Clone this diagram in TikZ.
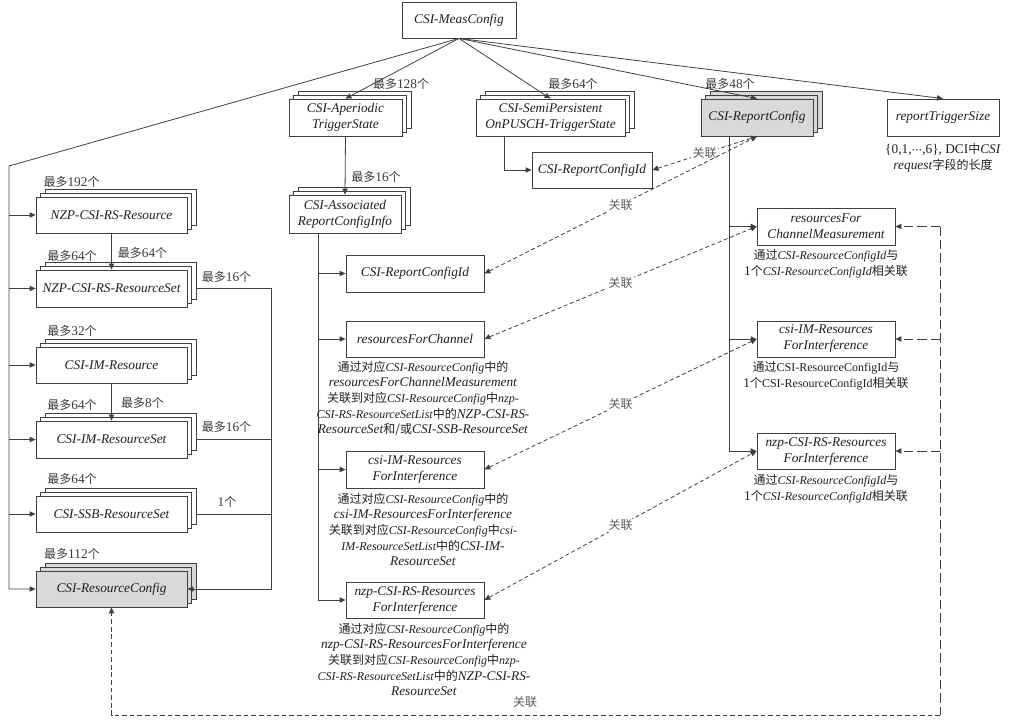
\documentclass[tikz,border=0pt]{standalone}
\usepackage{fontspec}
\setmainfont{Liberation Serif}
\newfontfamily\cjkf[Scale=0.9]{Noto Sans CJK SC}
\newfontfamily\dejavu{DejaVu Sans}
\newcommand\zh[1]{{\cjkf #1}}
\newcommand\smi[1]{{\fontsize{9}{10}\selectfont\itshape #1}}
\newcommand\smu[1]{{\fontsize{9}{10}\selectfont #1}}
\usetikzlibrary{arrows.meta,shadows}
\definecolor{lc}{HTML}{404040}
\definecolor{tc}{HTML}{1F1F1F}
\definecolor{lt}{HTML}{3A3A3A}
\definecolor{relc}{HTML}{5A5A5A}
\definecolor{boxgray}{HTML}{D9D9D9}
\begin{document}
\begin{tikzpicture}[x=0.75pt,y=-0.75pt,
  >={Triangle[length=4.5pt,width=4pt]},
  wh/.style 2 args={minimum width={#1*0.75pt}, minimum height={#2*0.75pt}},
  box/.style={draw=lc, fill=white, line width=0.6pt, inner sep=1pt, align=center,
    text=tc, font=\fontsize{10}{12}\selectfont\itshape},
  stack/.style={box,
    general shadow={shadow scale=1, shadow xshift=6.8pt, shadow yshift=5.6pt, fill=white, draw=lc, line width=0.6pt},
    general shadow={shadow scale=1, shadow xshift=3.4pt, shadow yshift=2.8pt, fill=white, draw=lc, line width=0.6pt}},
  gstack/.style={box, fill=boxgray,
    general shadow={shadow scale=1, shadow xshift=6.8pt, shadow yshift=5.6pt, fill=boxgray, draw=lc, line width=0.6pt},
    general shadow={shadow scale=1, shadow xshift=3.4pt, shadow yshift=2.8pt, fill=boxgray, draw=lc, line width=0.6pt}},
  conn/.style={draw=lc, line width=0.6pt},
  arr/.style={conn, ->},
  rl/.style={conn, <->, dash pattern=on 3pt off 2pt},
  dl/.style={conn, ->, dash pattern=on 7pt off 3pt},
  ds/.style={conn, ->, dash pattern=on 3.5pt off 2.2pt},
  lbl/.style={text=lt, inner sep=0pt, font=\fontsize{10}{12}\selectfont},
  note/.style={text=tc, inner sep=0pt, align=center, font=\fontsize{10}{11.8}\selectfont},
  rel/.style={text=relc, fill=white, inner sep=1pt, font=\fontsize{10}{12}\selectfont\cjkf},
]
\useasboundingbox (0,0) rectangle (1011,725);

% ---------- nodes ----------
\node[box,wh={114}{36}] (meas) at (459,20) {CSI-MeasConfig};
\node[stack,wh={113}{37}] (aper) at (345.5,117.5) {CSI-Aperiodic\\TriggerState};
\node[stack,wh={149}{37}] (semi) at (550.5,117.5) {CSI-SemiPersistent\\OnPUSCH-TriggerState};
\node[gstack,wh={112}{37}] (repcfg) at (757,117.5) {CSI-ReportConfig};
\node[box,wh={112}{37}] (rts) at (943,117.5) {reportTriggerSize};
\node[box,wh={120}{36}] (repidu) at (592,170) {CSI-ReportConfigId};
\node[stack,wh={112}{38}] (assoc) at (345,214) {CSI-Associated\\ReportConfigInfo};

\node[stack,wh={151}{36}] (nzpres) at (111.5,215) {NZP-CSI-RS-Resource};
\node[stack,wh={151}{37}] (nzpset) at (111.5,288.5) {NZP-CSI-RS-ResourceSet};
\node[stack,wh={151}{36}] (imres) at (111.5,365) {CSI-IM-Resource};
\node[stack,wh={151}{37}] (imset) at (111.5,439.5) {CSI-IM-ResourceSet};
\node[stack,wh={151}{36}] (ssb) at (111.5,514) {CSI-SSB-ResourceSet};
\node[gstack,wh={151}{36}] (rescfg) at (111.5,589) {CSI-ResourceConfig};

\node[box,wh={138}{37}] (repidl) at (415,273.5) {CSI-ReportConfigId};
\node[box,wh={138}{36}] (rfc) at (415,339) {resourcesForChannel};
\node[box,wh={138}{37}] (csiim) at (415,469.5) {csi-IM-Resources\\ForInterference};
\node[box,wh={138}{36}] (nzpif) at (415,600) {nzp-CSI-RS-Resources\\ForInterference};

\node[box,wh={138}{37}] (rfcm) at (826,226.5) {resourcesFor\\ChannelMeasurement};
\node[box,wh={138}{36}] (csiimr) at (826,339) {csi-IM-Resources\\ForInterference};
\node[box,wh={138}{36}] (nzpifr) at (826,451) {nzp-CSI-RS-Resources\\ForInterference};

% ---------- count labels ----------
\node[lbl] (l1) at (401,84) {\zh{最多}128\zh{个}};
\node[lbl] (l2) at (573,84) {\zh{最多}64\zh{个}};
\node[lbl] (l3) at (730,84) {\zh{最多}48\zh{个}};
\node[lbl] (l4) at (376,177) {\zh{最多}16\zh{个}};
\node[lbl] (l5) at (71.5,182) {\zh{最多}192\zh{个}};
\node[lbl] (l6) at (72,256) {\zh{最多}64\zh{个}};
\node[lbl] (l7) at (142.5,253) {\zh{最多}64\zh{个}};
\node[lbl] (l8) at (226.5,277) {\zh{最多}16\zh{个}};
\node[lbl] (l9) at (72,331) {\zh{最多}32\zh{个}};
\node[lbl] (l10) at (72,405) {\zh{最多}64\zh{个}};
\node[lbl] (l11) at (142.5,403) {\zh{最多}8\zh{个}};
\node[lbl] (l12) at (226.5,427) {\zh{最多}16\zh{个}};
\node[lbl] (l13) at (72,479) {\zh{最多}64\zh{个}};
\node[lbl] (l14) at (227,502) {1\zh{个}};
\node[lbl] (l15) at (72,554) {\zh{最多}112\zh{个}};

% ---------- notes ----------
\node[note] (nrts) at (943,158) {\{0,1,{\dejavu\fontsize{8}{10}\selectfont ⋯},6\}, DCI\zh{中}\textit{CSI}\\\textit{request}\zh{字段的长度}};
\node[note] (nrfcm) at (826,263.5) {\zh{通过}\smi{CSI-ResourceConfigId}\zh{与}\\1\zh{个}\smi{CSI-ResourceConfigId}\zh{相关联}};
\node[note] (ncsiimr) at (826,375.5) {\zh{通过}\smu{CSI-ResourceConfigId}\zh{与}\\1\zh{个}\smu{CSI-ResourceConfigId}\zh{相关联}};
\node[note] (nnzpifr) at (826,488.5) {\zh{通过}\smi{CSI-ResourceConfigId}\zh{与}\\1\zh{个}\smi{CSI-ResourceConfigId}\zh{相关联}};

\node[note] (nrfc) at (423,398.5) {\zh{通过对应}\smi{CSI-ResourceConfig}\zh{中的}\\
\textit{resourcesForChannelMeasurement}\\
\zh{关联到对应}\smi{CSI-ResourceConfig}\zh{中}\smi{nzp-}\\
\smi{CSI-RS-ResourceSetList}\zh{中的}\textit{NZP-CSI-RS-}\\
\textit{ResourceSet}\zh{和/或}\textit{CSI-SSB-ResourceSet}};
\node[note] (ncsiim) at (423,529.5) {\zh{通过对应}\smi{CSI-ResourceConfig}\zh{中的}\\
\textit{csi-IM-ResourcesForInterference}\\
\zh{关联到对应}\smi{CSI-ResourceConfig}\zh{中}\smi{csi-}\\
\smi{IM-ResourceSetList}\zh{中的}\textit{CSI-IM-}\\
\textit{ResourceSet}};
\node[note] (nnzpif) at (424,659.5) {\zh{通过对应}\smi{CSI-ResourceConfig}\zh{中的}\\
\textit{nzp-CSI-RS-ResourcesForInterference}\\
\zh{关联到对应}\smi{CSI-ResourceConfig}\zh{中}\smi{nzp-}\\
\smi{CSI-RS-ResourceSetList}\zh{中的}\textit{NZP-CSI-RS-}\\
\textit{ResourceSet}};

% ---------- helper coordinates ----------
\coordinate (L0) at (9,166);
\coordinate (R0) at (271,289);
\coordinate (M0) at (318,233);
\coordinate (Q0) at (729,136);
\coordinate (S0) at (504,136);
\coordinate (D0) at (940,226.5);
\coordinate (D1) at (940,715);

% ---------- solid connectors ----------
\draw[arr] (meas.south) -- (aper.north);
\draw[arr] (meas.south) -- (semi.north);
\draw[arr] (meas.south) -- (repcfg.north);
\draw[arr] (meas.south) -- (rts.north);
\draw[arr] (meas.south) -- (L0) -- (L0 |- rescfg.west) -- (rescfg.west);
\foreach \n in {nzpres,nzpset,imres,imset,ssb} \draw[arr] (L0 |- \n.west) -- (\n.west);

\draw[arr] (nzpres.south) -- (nzpset.north);
\draw[arr] (imres.south) -- (imset.north);
\draw[arr] ([xshift=7.5pt]nzpset.east) -- (R0 |- nzpset.east) -- (R0 |- rescfg.east) -- (rescfg.east);
\draw[conn] ([xshift=7.5pt]imset.east) -- (R0 |- imset.east);
\draw[conn] ([xshift=7.5pt]ssb.east) -- (R0 |- ssb.east);

\draw[arr] (aper.south) -- (assoc.north);
\draw[arr] (S0 |- semi.south) -- (S0 |- repidu.west) -- (repidu.west);
\draw[arr] (M0 |- assoc.south) -- (M0 |- nzpif.west) -- (nzpif.west);
\foreach \n in {repidl,rfc,csiim} \draw[arr] (M0 |- \n.west) -- (\n.west);
\draw[arr] (Q0 |- repcfg.south) -- (Q0 |- nzpifr.west) -- (nzpifr.west);
\foreach \n in {rfcm,csiimr} \draw[arr] (Q0 |- \n.west) -- (\n.west);

% ---------- dashed associations ----------
\draw[rl] (repidu.east) -- node[rel]{关联} (repcfg.south);
\draw[rl] (repidl.east) -- node[rel]{关联} (repcfg.south);
\draw[rl] (rfc.east) -- node[rel]{关联} (rfcm.west);
\draw[rl] (csiim.east) -- node[rel]{关联} (csiimr.west);
\draw[rl] (nzpif.east) -- node[rel]{关联} (nzpifr.west);

\draw[conn, dash pattern=on 7pt off 3pt] (D0) -- (D1);
\foreach \n in {rfcm,csiimr,nzpifr} \draw[dl] (D0 |- \n.east) -- (\n.east);
\draw[ds] (D1) -- (D1 -| rescfg.south) -- (rescfg.south);
\node[rel, fill=none] (relb) at (525,702) {关联};
\end{tikzpicture}
\end{document}
